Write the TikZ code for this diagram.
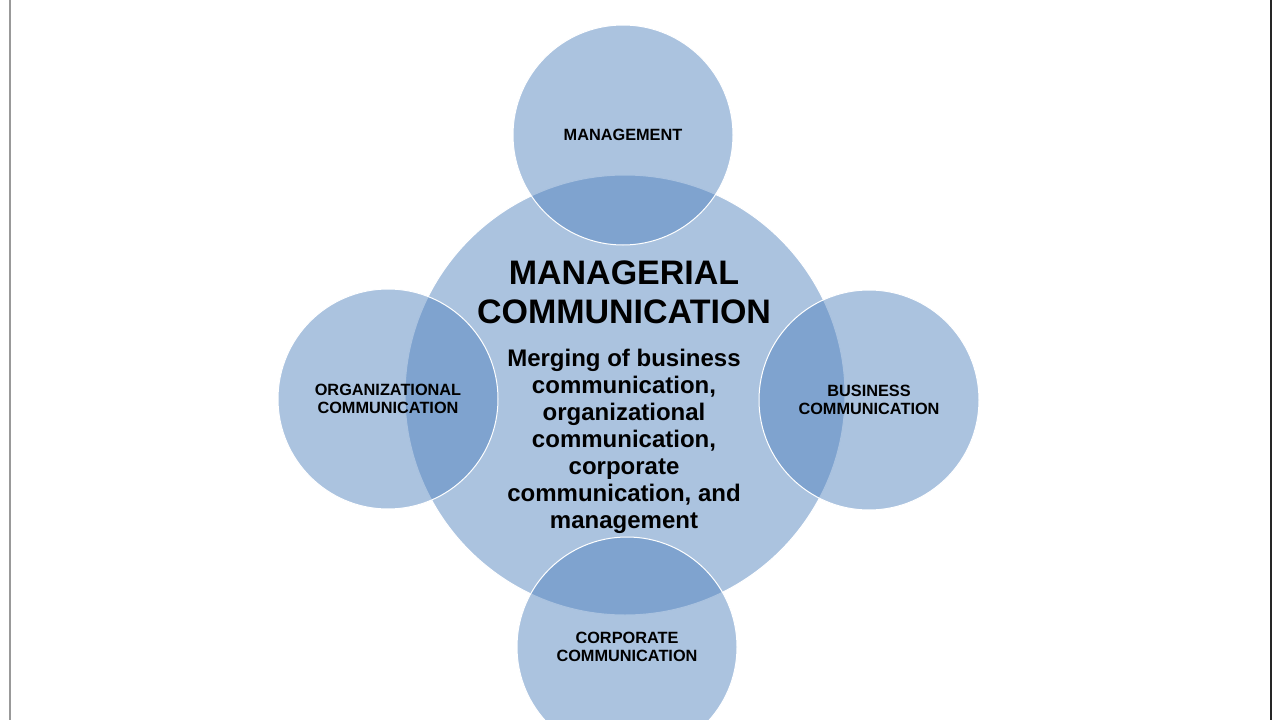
\documentclass[tikz,border=0pt]{standalone}
\usepackage{fontspec}
\setmainfont{Liberation Sans}
\usepackage{xcolor}
\definecolor{officeblue}{HTML}{4F81BD}

\begin{document}
\begin{tikzpicture}[x=1pt,y=-1pt]
			\tikzstyle{bubble} = [circle,fill=officeblue,fill opacity=0.48,text opacity=1,draw=white,line width=1pt,inner sep=0pt,align=center]
			\tikzstyle{small} = [font=\fontsize{16.3}{18.5}\selectfont\bfseries]
			\useasboundingbox (0,0) rectangle (1280,720);
			\draw[gray!80,line width=2pt] (10,0)--(10,720);
			\draw[black!85,line width=2pt] (1271,0)--(1271,720);
			\node[bubble,minimum size=440pt] (n0) at (625,395) {};
			\node[bubble,small,minimum size=220pt] (n1) at (623,135) {MANAGEMENT};
			\node[bubble,small,minimum size=220pt] (n2) at (388,399) {ORGANIZATIONAL\\COMMUNICATION};
			\node[bubble,small,minimum size=220pt] (n3) at (869,400) {BUSINESS\\COMMUNICATION};
			\node[bubble,small,minimum size=220pt] (n4) at (627,647) {CORPORATE\\COMMUNICATION};
			\node[align=center,font=\fontsize{34}{39}\selectfont\bfseries] (t1) at (624,292) {MANAGERIAL\\COMMUNICATION};
			\node[align=center,font=\fontsize{24}{27}\selectfont\bfseries] (t2) at (624,441) {Merging of business\\communication,\\organizational\\communication,\\corporate\\communication, and\\management};
\end{tikzpicture}
\end{document}
